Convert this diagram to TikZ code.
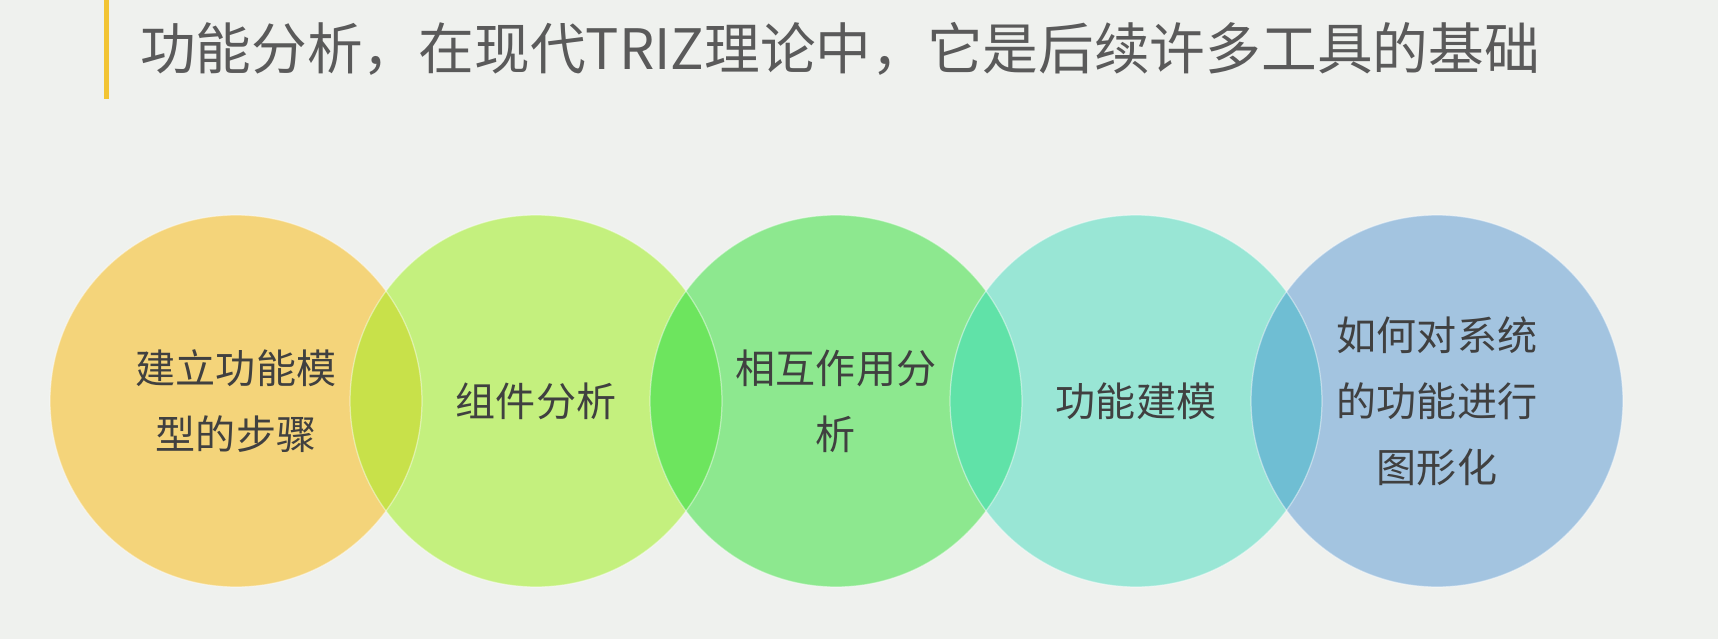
\documentclass[tikz,border=0pt]{standalone}
\usepackage{fontspec}
\newfontfamily\cjk{Noto Sans CJK SC}
\definecolor{bgGray}{HTML}{EFF1EE}
\definecolor{barYellow}{HTML}{F2C433}
\definecolor{titleGray}{HTML}{5A5A5A}
\definecolor{txtGray}{HTML}{404040}
\definecolor{discA}{HTML}{F4D47A}
\definecolor{discB}{HTML}{C4F07E}
\definecolor{discC}{HTML}{8DE88F}
\definecolor{discD}{HTML}{99E6D5}
\definecolor{discE}{HTML}{A3C4E0}
\definecolor{lensAB}{HTML}{C8E14A}
\definecolor{lensBC}{HTML}{6DE55E}
\definecolor{lensCD}{HTML}{60E2A8}
\definecolor{lensDE}{HTML}{6FBED3}
\begin{document}
\begin{tikzpicture}[x=0.02cm, y=-0.02cm,
            disc/.style={circle, minimum size=7.44cm, inner sep=0pt, align=center,
                         font=\cjk\fontsize{22.8}{37.5}\selectfont, text=txtGray},
            rim/.style={draw=white, opacity=0.45, line width=0.7pt}]

            % background and title
            \fill[bgGray] (0,0) rectangle (1718,639);
            \fill[barYellow] (104,0) rectangle (109,99);
            \node[anchor=west, font=\cjk\fontsize{31.7}{36}\selectfont, text=titleGray] (title) at (134,49) {功能分析，在现代TRIZ理论中，它是后续许多工具的基础};

            % the five steps
            \node[disc, fill=discA] (A) at (236,401) {建立功能模\\型的步骤};
            \node[disc, fill=discB] (B) at (536,401) {组件分析};
            \node[disc, fill=discC] (C) at (836,401) {相互作用分\\析};
            \node[disc, fill=discD] (D) at (1136,401) {功能建模};
            \node[disc, fill=discE] (E) at (1437,401) {如何对系统\\的功能进行\\图形化};

            % overlaps
            \begin{scope}
                \clip (A.center) circle[radius=3.72cm];
                \fill[lensAB] (B.center) circle[radius=3.72cm];
            \end{scope}
            \begin{scope}
                \clip (B.center) circle[radius=3.72cm];
                \fill[lensBC] (C.center) circle[radius=3.72cm];
            \end{scope}
            \begin{scope}
                \clip (C.center) circle[radius=3.72cm];
                \fill[lensCD] (D.center) circle[radius=3.72cm];
            \end{scope}
            \begin{scope}
                \clip (D.center) circle[radius=3.72cm];
                \fill[lensDE] (E.center) circle[radius=3.72cm];
            \end{scope}

            \foreach \n in {A,B,C,D,E}
                \draw[rim] (\n.center) circle[radius=3.72cm];

\end{tikzpicture}
\end{document}
